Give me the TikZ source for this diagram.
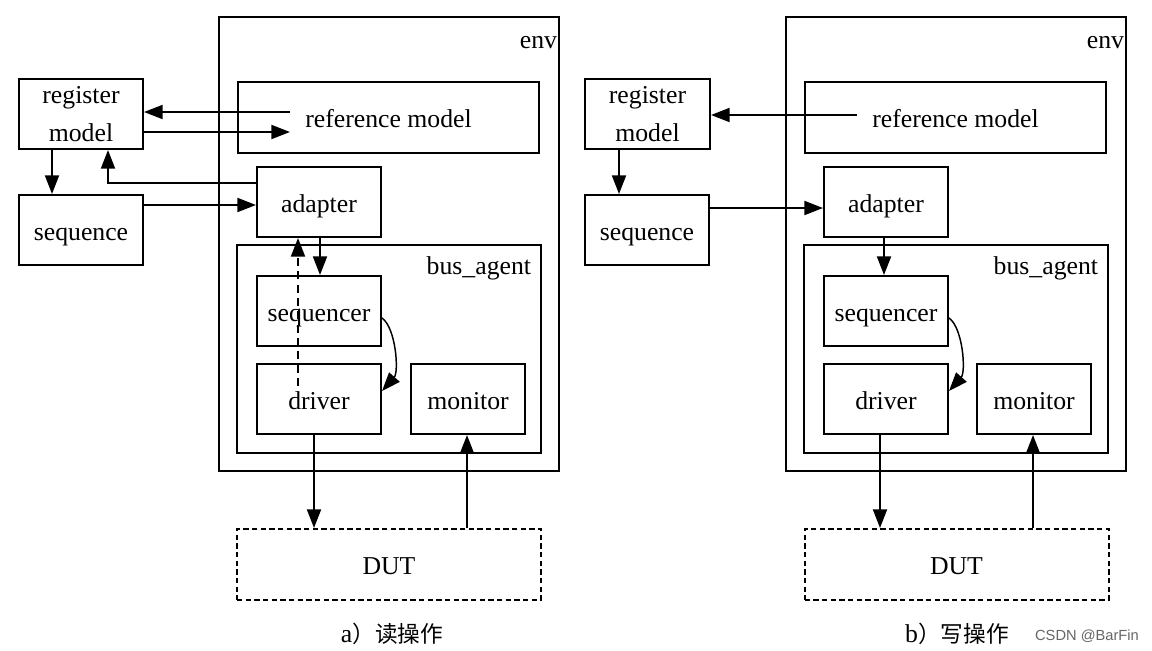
\documentclass[tikz,border=0pt]{standalone}
\usepackage{fontspec}
\setmainfont{Liberation Serif}
\newfontfamily\cjk{Noto Sans CJK SC}
\newfontfamily\wmfont{Liberation Sans}
\usetikzlibrary{arrows.meta}
\begin{document}
\begin{tikzpicture}[x=0.75pt,y=-0.75pt,
  basebox/.style={draw, line width=1.5pt, inner sep=0pt, align=center, font=\fontsize{19.3}{28.5}\selectfont},
  box/.style={basebox, text height=15pt, text depth=0pt},
  regbox/.style={basebox},
  dbox/.style={box, dash pattern=on 4pt off 2.5pt},
  lbl/.style={inner sep=0pt, font=\fontsize{19.3}{22}\selectfont},
  arr/.style={line width=1.5pt, -{Triangle[length=14pt,width=10.5pt]}},
  darr/.style={arr, dash pattern=on 6pt off 4pt}]
\useasboundingbox (0,0) rectangle (1152,650);

% ===== panel a =====
\node[box, minimum width=255pt, minimum height=340.5pt] (aenv) at (389,244) {};
\node[lbl, anchor=north east] (aenvl) at ([xshift=-2pt,yshift=-15pt]aenv.north east) {env};
\node[regbox, minimum width=93pt, minimum height=52.5pt] (areg) at (81,114) {register\\model};
\node[box, minimum width=225.75pt, minimum height=53.25pt] (aref) at (388.5,117.5) {reference model};
\node[box, minimum width=93pt, minimum height=52.5pt] (aseq) at (81,230) {sequence};
\node[box, minimum width=93pt, minimum height=52.5pt] (aadp) at (319,202) {adapter};
\node[box, minimum width=228pt, minimum height=156pt] (abus) at (389,349) {};
\node[lbl, anchor=north east] (abusl) at ([xshift=-8pt,yshift=-9pt]abus.north east) {bus\_agent};
\node[box, minimum width=93pt, minimum height=52.5pt] (asqr) at (319,311) {sequencer};
\node[box, minimum width=93pt, minimum height=52.5pt] (adrv) at (319,399) {driver};
\node[box, minimum width=85.5pt, minimum height=52.5pt] (amon) at (468,399) {monitor};
\node[dbox, minimum width=228pt, minimum height=53.25pt] (adut) at (389,564.5) {DUT};
\node[lbl, anchor=base] (acap) at (392,642) {a\cjk\fontsize{17}{20}\selectfont ）读操作};

\coordinate (aref1) at (290,112);
\coordinate (aref2) at (290,132);
\coordinate (adash) at (298,386);
\draw[arr] (aref1) -- (areg.east |- aref1);
\draw[arr] (areg.east |- aref2) -- (aref2);
\draw[arr] (areg.south -| 52,0) -- (aseq.north -| 52,0);
\draw[arr] (aadp.west |- 0,183) -| (areg.south -| 108,0);
\draw[arr] (aseq.east |- 0,205) -- (aadp.west |- 0,205);
\draw[arr] (aadp.south -| 320,0) -- (asqr.north -| 320,0);
\draw[darr] (adash) -- (aadp.south -| adash);
\draw[arr, line width=1.1pt] (asqr.east |- 0,318) .. controls (396,328) and (399,372) .. (adrv.east |- 0,391);
\draw[arr] (adrv.south -| 314,0) -- (adut.north -| 314,0);
\draw[arr] (adut.north -| 467,0) -- (amon.south -| 467,0);

% ===== panel b =====
\node[box, minimum width=255pt, minimum height=340.5pt] (benv) at (956,244) {};
\node[lbl, anchor=north east] (benvl) at ([xshift=-2pt,yshift=-15pt]benv.north east) {env};
\node[regbox, minimum width=93.75pt, minimum height=52.5pt] (breg) at (647.5,114) {register\\model};
\node[box, minimum width=225.75pt, minimum height=53.25pt] (bref) at (955.5,117.5) {reference model};
\node[box, minimum width=93pt, minimum height=52.5pt] (bseq) at (647,230) {sequence};
\node[box, minimum width=93pt, minimum height=52.5pt] (badp) at (886,202) {adapter};
\node[box, minimum width=228pt, minimum height=156pt] (bbus) at (956,349) {};
\node[lbl, anchor=north east] (bbusl) at ([xshift=-8pt,yshift=-9pt]bbus.north east) {bus\_agent};
\node[box, minimum width=93pt, minimum height=52.5pt] (bsqr) at (886,311) {sequencer};
\node[box, minimum width=93pt, minimum height=52.5pt] (bdrv) at (886,399) {driver};
\node[box, minimum width=85.5pt, minimum height=52.5pt] (bmon) at (1034,399) {monitor};
\node[dbox, minimum width=228pt, minimum height=53.25pt] (bdut) at (956.5,564.5) {DUT};
\node[lbl, anchor=base] (bcap) at (957,642) {b\cjk\fontsize{17}{20}\selectfont ）写操作};
\node[inner sep=0pt, anchor=base, text=black!60, font=\wmfont\fontsize{11}{13}\selectfont] (wm) at (1087,640) {CSDN @BarFin};

\coordinate (bref1) at (857,115);
\draw[arr] (bref1) -- (breg.east |- bref1);
\draw[arr] (breg.south -| 619,0) -- (bseq.north -| 619,0);
\draw[arr] (bseq.east |- 0,208) -- (badp.west |- 0,208);
\draw[arr] (badp.south -| 884,0) -- (bsqr.north -| 884,0);
\draw[arr, line width=1.1pt] (bsqr.east |- 0,318) .. controls (963,328) and (966,372) .. (bdrv.east |- 0,391);
\draw[arr] (bdrv.south -| 880,0) -- (bdut.north -| 880,0);
\draw[arr] (bdut.north -| 1033,0) -- (bmon.south -| 1033,0);
\end{tikzpicture}
\end{document}
